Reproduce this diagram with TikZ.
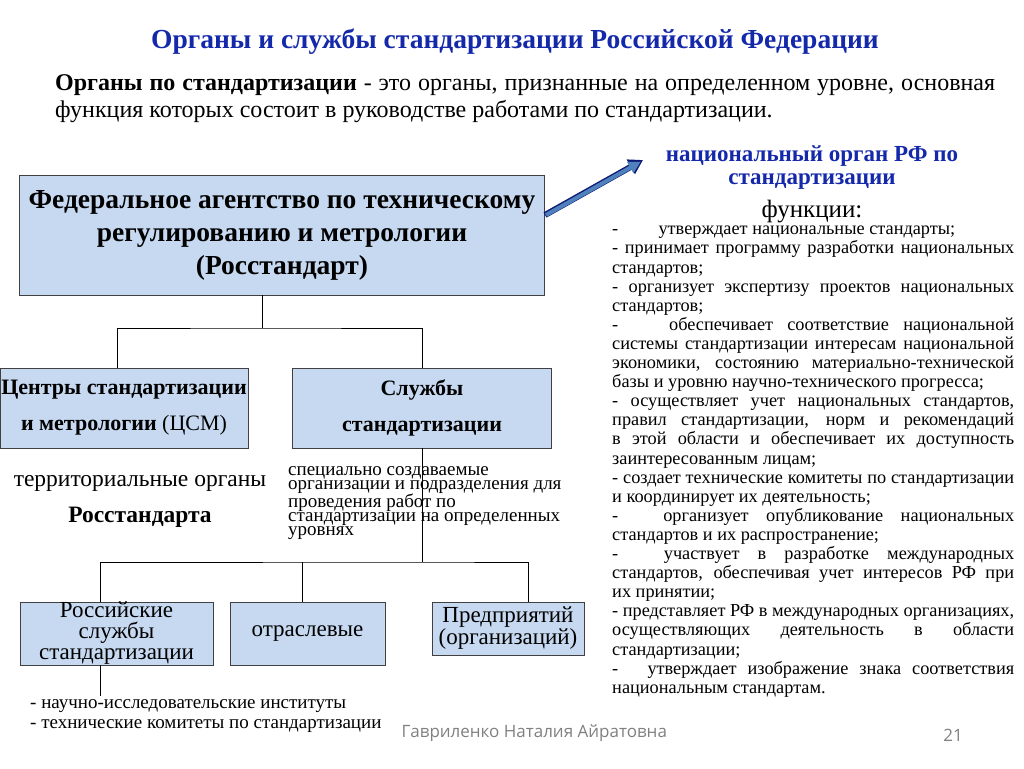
\documentclass[tikz,border=0pt]{standalone}
\usepackage{fontspec}
\setmainfont{Liberation Serif}
\setsansfont{Open Sans}
\usetikzlibrary{positioning}
\usetikzlibrary{arrows.meta}
\definecolor{boxfill}{RGB}{198,217,240}
\definecolor{titleblue}{RGB}{20,40,170}
\definecolor{arrowblue}{RGB}{79,129,189}
\begin{document}
\begin{tikzpicture}[x=1pt,y=-1pt,
  box/.style={draw=black!75, fill=boxfill, line width=0.8pt, align=center, inner sep=0pt},
  link/.style={draw, line width=0.7pt},
  note/.style={align=left, inner sep=0pt, anchor=north west}
]
\useasboundingbox (0,0) rectangle (1024,768);

% Title and definition
\node[font=\fontsize{27.5}{30}\selectfont\bfseries, text=titleblue] (title) at (515,42) {Органы и службы стандартизации Российской Федерации};
\node[note, text width=940pt, align=justify, font=\fontsize{24}{27}\selectfont] (def) at (55,74)
  {\textbf{Органы по стандартизации} - это органы, признанные на определенном уровне, основная функция которых состоит в руководстве работами по стандартизации.};

% Top agency
\node[box, minimum width=525pt, minimum height=120pt, font=\fontsize{27.5}{33}\selectfont\bfseries] (rst) at (282,235)
  {Федеральное агентство по техническому\\регулированию и метрологии\\(\textmd{}Росстандарт)};

% National body
\node[font=\fontsize{23}{23}\selectfont\bfseries, text=titleblue, align=center] (nat) at (812,168) {национальный орган РФ по\\стандартизации};
\draw[-{Triangle[length=14pt,width=16pt]}, line width=6pt, draw=titleblue!70!black] (545,215) -- (643,160);
\draw[-{Triangle[length=12pt,width=12pt]}, line width=4pt, draw=arrowblue, shorten >=1.5pt] (546,215) -- (642,161);
\node[font=\fontsize{25}{28}\selectfont] (fun) at (812,212) {функции:};
\node[note, text width=402pt, align=justify, font=\fontsize{18.3}{19.1}\selectfont] (list) at (612,226)
  {-\hspace{2.2em}утверждает национальные стандарты;\\
  - принимает программу разработки национальных стандартов;\\
  - организует экспертизу проектов национальных стандартов;\\
  - \hspace{2em}обеспечивает соответствие национальной системы стандартизации интересам национальной экономики, состоянию материально-технической базы и уровню научно-технического прогресса;\\
  - осуществляет учет национальных стандартов, правил стандартизации, норм и рекомендаций в этой области и обеспечивает их доступность заинтересованным лицам;\\
  - создает технические комитеты по стандартизации и координирует их деятельность;\\
  - \hspace{1.5em}организует опубликование национальных стандартов и их распространение;\\
  - \hspace{1.5em}участвует в разработке международных стандартов, обеспечивая учет интересов РФ при их принятии;\\
  - представляет РФ в международных организациях, осуществляющих деятельность в области стандартизации;\\
  - \hspace{1em}утверждает изображение знака соответствия национальным стандартам.};

% Second level
\node[box, minimum width=248pt, minimum height=80pt, font=\fontsize{22}{36}\selectfont] (csm) at (124,408)
  {\textbf{Центры стандартизации}\\\textbf{и метрологии} (ЦСМ)};
\node[box, minimum width=259pt, minimum height=80pt, font=\fontsize{22}{36}\selectfont\bfseries] (srv) at (422,408)
  {Службы\\стандартизации};
\coordinate (j1) at (262,328);
\draw[link] (rst.south -| j1) -- (j1);
\draw[link] (csm.north -| 117,0) |- (j1) -| (srv.north);

\node[align=center, font=\fontsize{23.5}{36}\selectfont] (terr) at (140,501) {территориальные органы\\\textbf{Росстандарта}};
\node[note, font=\fontsize{19}{14}\selectfont] (spec) at (288,466)
  {специально создаваемые\\организации и подразделения для\\проведения работ по\\стандартизации на определенных\\уровнях};

% Third level
\node[box, minimum width=193pt, minimum height=63pt, font=\fontsize{23}{21}\selectfont] (rus) at (116.5,633.5)
  {Российские\\службы\\стандартизации};
\node[box, minimum width=155pt, minimum height=63pt, font=\fontsize{23}{22}\selectfont] (otr) at (307.5,633.5) {отраслевые};
\node[box, minimum width=152pt, minimum height=53pt, font=\fontsize{23}{22}\selectfont] (ent) at (508,628.5)
  {Предприятий\\(организаций)};
\coordinate (j2) at (422,562);
\draw[link] (srv.south) -- (j2);
\draw[link] (rus.north -| 100,0) |- (j2) -| (ent.north -| 528,0);
\draw[link] (otr.north -| 302,0) -- (302,562);
\coordinate (j3) at (100,696);
\draw[link] (rus.south -| j3) -- (j3);

\node[note, font=\fontsize{19}{20}\selectfont] (inst) at (30,699)
  {- научно-исследовательские институты\\- технические комитеты по стандартизации};

% Footer
\node[anchor=west, font=\sffamily\fontsize{17}{18}\selectfont, text=black!50] (auth) at (398,733) {Гавриленко Наталия Айратовна};
\node[font=\sffamily\fontsize{17}{18}\selectfont, text=black!50] (page) at (953,735) {21};
\end{tikzpicture}
\end{document}
